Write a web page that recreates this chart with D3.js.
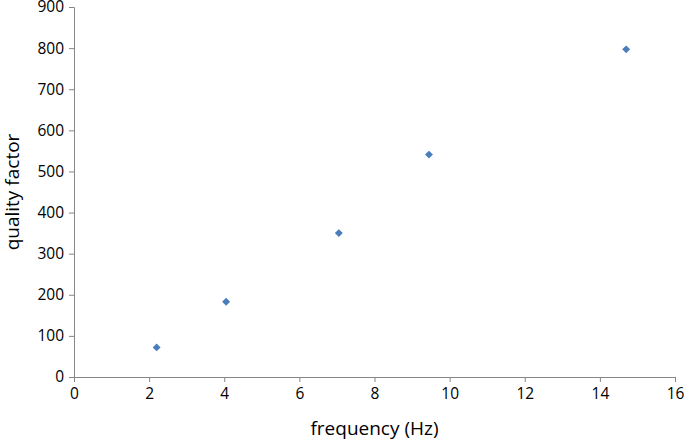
<!DOCTYPE html>
<html>
<head>
<meta charset="utf-8">
<script src="https://cdn.jsdelivr.net/npm/d3@7"></script>
<style>
  body { margin: 0; background: #fff; }
  .axis text { font-family: "Open Sans", "Liberation Sans", sans-serif; font-size: 15.5px; fill: #000; }
  .axis path, .axis line { stroke: #868686; }
</style>
</head>
<body>
<div id="chart"></div>
<script>
// data
const frequency = [2.2, 4.05, 7.05, 9.45, 14.7];
const quality = [72, 183, 350, 541, 797];
const xTicks = [0, 2, 4, 6, 8, 10, 12, 14, 16];
const yTicks = [0, 100, 200, 300, 400, 500, 600, 700, 800, 900];

let margin = {top: 7, right: 10, bottom: 66, left: 74},
    width = 685 - margin.left - margin.right,
    height = 443 - margin.top - margin.bottom;

let svg = d3.select("#chart").append("svg")
    .attr("width", 685).attr("height", 443)
  .append("g")
    .attr("transform", "translate(" + margin.left + "," + margin.top + ")");

const X_SCALE = d3.scaleLinear().domain([0, 16]).range([0, 601]);
const Y_SCALE = d3.scaleLinear().domain([0, 900]).range([370, 0]);

// x axis
svg.append("g").attr("class", "axis")
    .attr("transform", "translate(0," + 370 + ")")
    .call(d3.axisBottom(X_SCALE).tickValues(xTicks).tickSizeOuter(0).tickSize(5).tickPadding(6));

// y axis
svg.append("g").attr("class", "axis")
    .call(d3.axisLeft(Y_SCALE).tickValues(yTicks).tickSizeOuter(0).tickSize(5).tickPadding(5));

// diamonds
svg.selectAll(".pt")
    .data(frequency)
    .enter().append("path")
    .attr("class", "pt")
    .attr("d", d3.symbol().type(d3.symbolDiamond2).size(40))
    .attr("transform", (d, i) => "translate(" + X_SCALE(d) + "," + Y_SCALE(quality[i]) + ")")
    .style("fill", "#4a7ebb");

// axis titles
svg.append("text")
    .attr("x", X_SCALE(8)).attr("y", 370 + 58)
    .attr("text-anchor", "middle")
    .style("font-family", "'Open Sans', 'Liberation Sans', sans-serif")
    .style("font-size", "19px")
    .text("frequency (Hz)");

svg.append("text")
    .attr("transform", "translate(" + (-55) + "," + Y_SCALE(450) + ") rotate(-90)")
    .attr("text-anchor", "middle")
    .style("font-family", "'Open Sans', 'Liberation Sans', sans-serif")
    .style("font-size", "19px")
    .text("quality  factor");
</script>
</body>
</html>
